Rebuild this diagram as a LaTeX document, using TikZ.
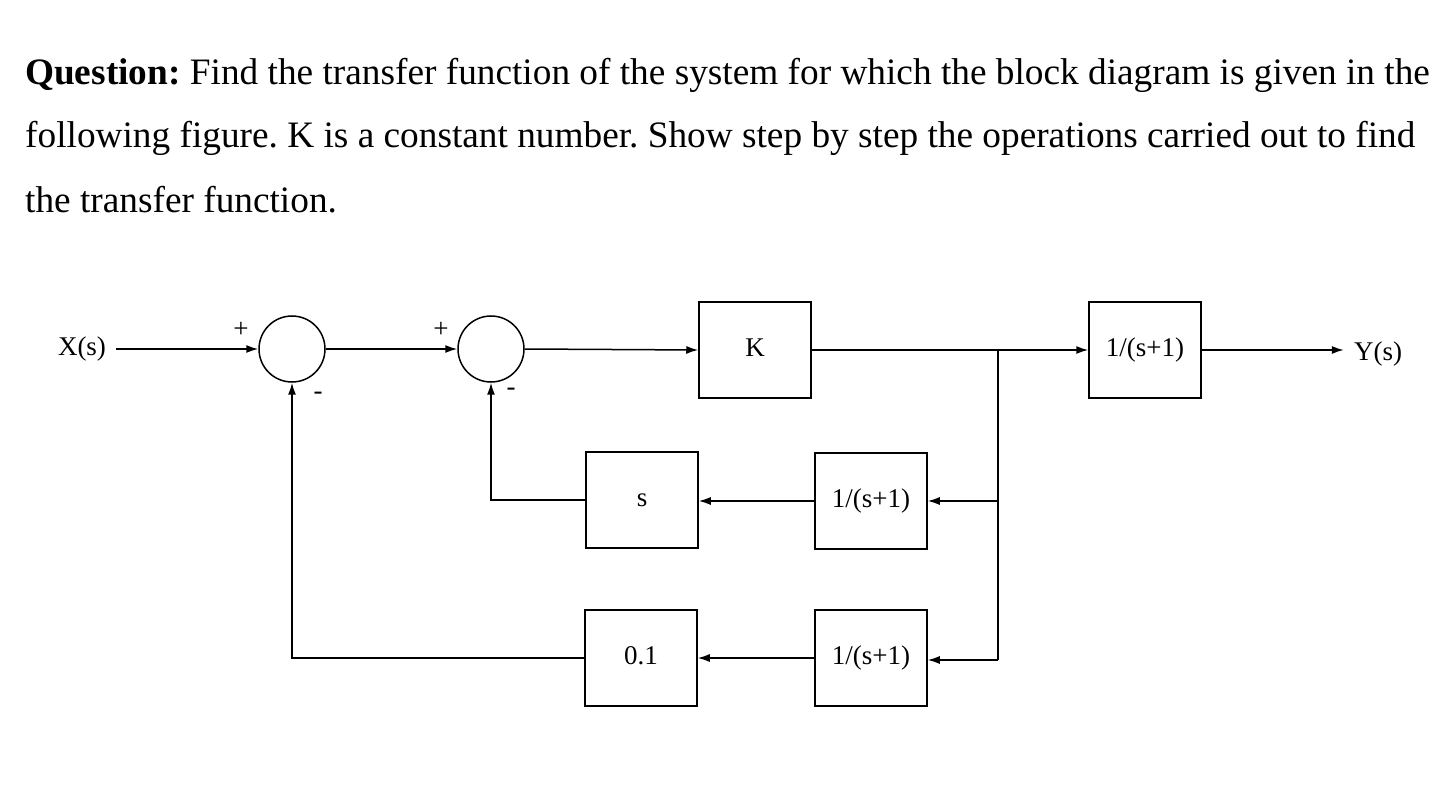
\documentclass[tikz,border=0pt]{standalone}
\usepackage{fontspec}
\setmainfont{Liberation Serif}
\usetikzlibrary{arrows.meta}
\begin{document}
\frenchspacing
\begin{tikzpicture}[x=1pt,y=-1pt,
  blk/.style={draw,line width=1.5pt,minimum width=112pt,minimum height=96pt,inner sep=0pt,text height=18pt,text depth=5pt,font=\fontsize{27}{30}\selectfont},
  sum/.style={draw,circle,line width=1.5pt,minimum size=66pt,inner sep=0pt},
  sig/.style={line width=1.5pt,-{Latex[length=12pt,width=8pt]}},
  ln/.style={line width=1.5pt},
  lbl/.style={font=\fontsize{27}{30}\selectfont,inner sep=0pt}]
\useasboundingbox (0,0) rectangle (1452,786);
\node[anchor=base west,inner sep=0pt,font=\fontsize{37.3}{40}\selectfont] (t1) at (25,85) {\textbf{Question:} Find the transfer function of the system for which the block diagram is given in the};
\node[anchor=base west,inner sep=0pt,font=\fontsize{37.3}{40}\selectfont] (t2) at (25,148) {following figure. K is a constant number. Show step by step the operations carried out to find};
\node[anchor=base west,inner sep=0pt,font=\fontsize{37.3}{40}\selectfont] (t3) at (25,213) {the transfer function.};
\node[lbl] (x) at (82,349) {X(s)};
\node[sum] (s1) at (292,349) {};
\node[sum] (s2) at (491,349) {};
\node[blk] (k) at (755,350) {K};
\node[blk] (g) at (1145,350) {1/(s+1)};
\node[lbl] (y) at (1378,354) {Y(s)};
\node[blk] (bs) at (642,500) {s};
\node[blk] (h1) at (871,501) {1/(s+1)};
\node[blk] (b01) at (641,658) {0.1};
\node[blk] (h2) at (871,658) {1/(s+1)};
\coordinate (br) at (998,349);
\coordinate (br1) at (998,501);
\coordinate (br2) at (998,660);
\coordinate (c1) at (491,500);
\coordinate (c2) at (292,658);
\draw[sig] (x.east)++(10,0) -- (s1.west);
\draw[sig] (s1.east) -- (s2.west);
\draw[sig] (s2.east) -- (k.west);
\draw[sig] (k.east) -- (g.west);
\draw[sig] (g.east) -- ([xshift=-10pt]y.west |- g.east);
\draw[ln] (br) -- (br2);
\draw[sig] (br1) -- (h1.east);
\draw[sig] (br2) -- (h2.east |- br2);
\draw[sig] (h1.west) -- (bs.east |- h1.west);
\draw[sig] (h2.west) -- (b01.east);
\draw[sig] (bs.west) -- (c1) -- (s2.south);
\draw[sig] (b01.west) -- (c2) -- (s1.south);
\node[lbl] (p1) at (241,330) {+};
\node[lbl] (p2) at (441,330) {+};
\node[lbl] (m1) at (318,396) {-};
\node[lbl] (m2) at (511,392) {-};
\end{tikzpicture}
\end{document}
